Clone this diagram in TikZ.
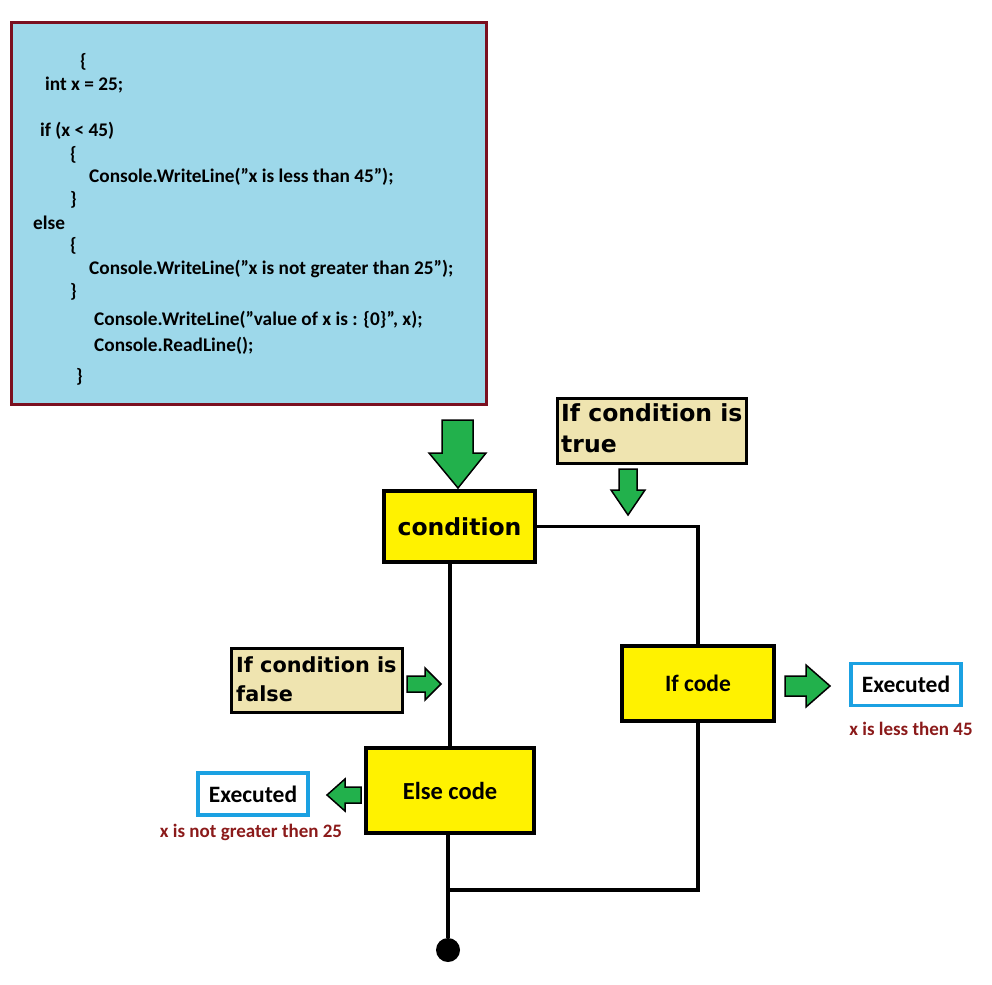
\documentclass[tikz,border=0pt]{standalone}
\usepackage{fontspec}
\setmainfont{Carlito}[Ligatures=ResetAll]
\newfontfamily\lab{DejaVu Sans}
\definecolor{codebg}{HTML}{9DD8EA}
\definecolor{codebd}{HTML}{7B1020}
\definecolor{ybox}{HTML}{FFF200}
\definecolor{tan}{HTML}{EFE4B0}
\definecolor{garr}{HTML}{22B14C}
\definecolor{exblue}{HTML}{1BA1E2}
\definecolor{note}{HTML}{8B1A1A}
\begin{document}
\begin{tikzpicture}[x=1pt,y=-1pt,
  ybx/.style={draw=black,line width=3.5pt,fill=ybox,inner sep=0pt},
  tbx/.style={draw=black,line width=3pt,fill=tan,inner sep=0pt},
  ebx/.style={draw=exblue,line width=3.5pt,fill=white,inner sep=0pt,minimum width=110pt,minimum height=42pt,font=\bfseries\fontsize{23.5}{25}\selectfont},
  code/.style={anchor=west,inner sep=0pt,font=\bfseries\fontsize{19.3}{21}\selectfont},
  gar/.style={draw=black,line width=1.5pt,fill=garr,line join=miter},
  wire/.style={line width=3.5pt},
  lbl/.style={anchor=north west,inner sep=0pt,align=left,font=\lab\bfseries\fontsize{23.5}{31}\selectfont},
  nt/.style={text=note,inner sep=0pt,font=\bfseries\fontsize{19}{21}\selectfont}]
\useasboundingbox (0,0) rectangle (992,984);
% code box
\draw[draw=codebd,line width=3pt,fill=codebg] (11,23) rectangle (486,404);
\node[code] (c1) at (80,62) {\{};
\node[code] (c2) at (45,85) {int x = 25;};
\node[code] (c3) at (40,131) {if (x < 45)};
\node[code] (c4) at (70,155) {\{};
\node[code] (c5) at (89,177) {Console.WriteLine("x is less than 45");};
\node[code] (c6) at (70,200) {\}};
\node[code] (c7) at (33,223) {else};
\node[code] (c8) at (70,246) {\{};
\node[code] (c9) at (89,269) {Console.WriteLine("x is not greater than 25");};
\node[code] (c10) at (70,292) {\}};
\node[code] (c11) at (94,320) {Console.WriteLine("value of x is : \{0\}", x);};
\node[code] (c12) at (94,346) {Console.ReadLine();};
\node[code] (c13) at (76,377) {\}};
% boxes
\node[ybx,minimum width=151pt,minimum height=71pt,font=\lab\bfseries\fontsize{23.5}{25}\selectfont] (cond) at (459.5,526.5) {condition};
\node[ybx,minimum width=152pt,minimum height=75pt,font=\bfseries\fontsize{23.5}{25}\selectfont] (ifc) at (698,683.5) {If code};
\node[ybx,minimum width=168pt,minimum height=85pt,font=\bfseries\fontsize{24.5}{26}\selectfont] (elc) at (450,790.5) {Else code};
\draw[tbx] (557,398) rectangle (746,463);
\node[lbl] (ltrue) at (561,403) {If condition is\\true};
\draw[tbx] (231,648) rectangle (402,712);
\node[lbl,font=\lab\bfseries\fontsize{20.8}{29}\selectfont] (lfalse) at (236,656) {If condition is\\false};
\node[ebx] (ex1) at (906,684.5) {Executed};
\node[ebx] (ex2) at (253,794) {Executed};
\node[nt] (n1) at (911,729) {x is less then 45};
\node[nt] (n2) at (251,832) {x is not greater then 25};
% wires
\coordinate (join) at (448,890);
\node[circle,fill=black,inner sep=0pt,minimum size=24pt] (dot) at (448,950) {};
\draw[wire] (cond.east) -| (ifc.north);
\draw[wire] (cond.south -| elc.north) -- (elc.north);
\draw[wire] (elc.south -| join) -- (dot);
\draw[wire] (ifc.south) |- (join);
% green arrows
\draw[gar] (442,420) -- (473,420) -- (473,453) -- (486,453) -- (458,488) -- (429,453) -- (442,453) -- cycle;
\draw[gar] (619,469) -- (637,469) -- (637,490) -- (645,490) -- (628,515) -- (611,490) -- (619,490) -- cycle;
\draw[gar] (407,676) -- (425,676) -- (425,668) -- (441,684) -- (425,700) -- (425,692) -- (407,692) -- cycle;
\draw[gar] (785,676) -- (806,676) -- (806,665) -- (830,686) -- (806,707) -- (806,696) -- (785,696) -- cycle;
\draw[gar] (361,787) -- (345,787) -- (345,779) -- (327,795) -- (345,811) -- (345,803) -- (361,803) -- cycle;
\end{tikzpicture}
\end{document}
